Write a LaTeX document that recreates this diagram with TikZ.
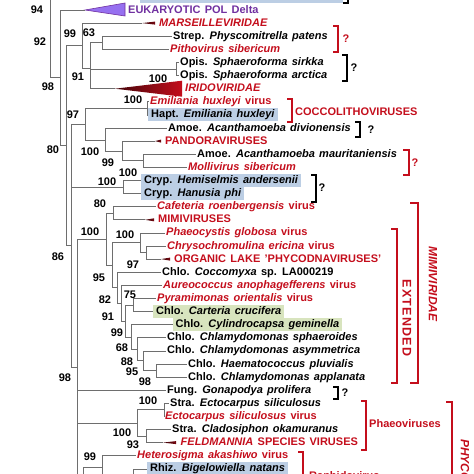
\documentclass[tikz,border=0pt]{standalone}
\usepackage{fontspec}
\setmainfont{Liberation Sans}[WordSpace=1.4]

\definecolor{vred}{RGB}{196,14,28}
\definecolor{eukpurple}{RGB}{112,48,160}
\definecolor{eukfill}{RGB}{150,112,240}
\definecolor{hlblue}{RGB}{188,206,228}
\definecolor{hlgreen}{RGB}{216,228,190}
\definecolor{branch}{RGB}{110,110,110}

\begin{document}
\begin{tikzpicture}[x=1pt,y=-1pt,
    lbl/.style={font=\fontsize{11}{12}\selectfont\bfseries,inner sep=0pt},
    leaf/.style={lbl,anchor=west,inner xsep=1.5pt,inner ysep=1pt,text height=8.5pt,text depth=2.5pt},
    vir/.style={leaf,text=vred},
    hapt/.style={leaf,fill=hlblue},
    chlo/.style={leaf,fill=hlgreen},
    br/.style={draw=branch,line width=0.8pt},
    redbr/.style={draw=vred,line width=1.7pt},
    blkbr/.style={draw=black,line width=1.7pt},
    clade/.style={font=\fontsize{12}{12}\selectfont\bfseries,text=vred,rotate=-90,inner sep=0pt}]
\useasboundingbox (0,0) rectangle (474,474);
\clip (0,0) rectangle (474,474);

% top of the figure (cut)
\fill[hlblue] (140,-10) rectangle (343,2.5);
\draw[blkbr] (343,3) -- (348,3) -- (348,-10);

% leaves
\node[lbl,text=eukpurple,anchor=west] (euk) at (128,10) {EUKARYOTIC POL Delta};
\node[vir] (mars) at (157.5,23.1) {\textit{MARSEILLEVIRIDAE}};
\node[leaf] (strep) at (171.5,36.2) {Strep. \textit{Physcomitrella patens}};
\node[vir] (pitho) at (168.5,49.3) {\textit{Pithovirus sibericum}};
\node[leaf] (opisS) at (178.5,62.4) {Opis. \textit{Sphaeroforma sirkka}};
\node[leaf] (opisA) at (178.5,75.6) {Opis. \textit{Sphaeroforma arctica}};
\node[vir] (irido) at (183.5,88.7) {\textit{IRIDOVIRIDAE}};
\node[vir] (ehvL) at (148.5,101.8) {\textit{Emiliania huxleyi} virus};
\node[hapt,inner xsep=3pt] (hapt) at (148,114.9) {Hapt. \textit{Emiliania huxleyi}};
\node[leaf] (amoeD) at (166.5,128.0) {Amoe. \textit{Acanthamoeba divionensis}};
\node[vir] (pando) at (163.5,141.1) {PANDORAVIRUSES};
\node[leaf] (amoeM) at (195.5,154.2) {Amoe. \textit{Acanthamoeba mauritaniensis}};
\node[vir] (molli) at (186.5,167.3) {\textit{Mollivirus sibericum}};
\node[hapt,inner xsep=3pt] (crypHe) at (141,180.4) {Cryp. \textit{Hemiselmis andersenii}};
\node[hapt,inner xsep=3pt] (crypHa) at (141,193.5) {Cryp. \textit{Hanusia phi}};
\node[vir] (cafeL) at (155.5,206.7) {\textit{Cafeteria roenbergensis} virus};
\node[vir] (mimi) at (156.5,219.8) {MIMIVIRUSES};
\node[vir] (phaeo) at (164.5,232.9) {\textit{Phaeocystis globosa} virus};
\node[vir] (chryso) at (165.5,246.0) {\textit{Chrysochromulina ericina} virus};
\node[vir] (olake) at (172.5,259.1) {ORGANIC LAKE 'PHYCODNAVIRUSES'};
\node[leaf] (cocco) at (160.5,272.2) {Chlo. \textit{Coccomyxa} sp. LA000219};
\node[vir] (aureo) at (161.5,285.3) {\textit{Aureococcus anophagefferens} virus};
\node[vir] (pyra) at (155.5,298.4) {\textit{Pyramimonas orientalis} virus};
\node[chlo,inner xsep=3pt] (carteria) at (153,311.5) {Chlo. \textit{Carteria crucifera}};
\node[chlo,inner xsep=3pt] (cylin) at (172.5,324.6) {Chlo. \textit{Cylindrocapsa geminella}};
\node[leaf] (sphaer) at (165.5,337.8) {Chlo. \textit{Chlamydomonas sphaeroides}};
\node[leaf] (asym) at (165.5,350.9) {Chlo. \textit{Chlamydomonas asymmetrica}};
\node[leaf] (haem) at (186.5,364.0) {Chlo. \textit{Haematococcus pluvialis}};
\node[leaf] (applan) at (186.5,377.1) {Chlo. \textit{Chlamydomonas applanata}};
\node[leaf] (gona) at (165.5,390.2) {Fung. \textit{Gonapodya prolifera}};
\node[leaf] (straEcto) at (168.5,403.3) {Stra. \textit{Ectocarpus siliculosus}};
\node[vir] (esv) at (163.5,416.4) {\textit{Ectocarpus siliculosus} virus};
\node[leaf] (clado) at (170.5,429.5) {Stra. \textit{Cladosiphon okamuranus}};
\node[vir] (feld) at (179,442.6) {\textit{FELDMANNIA} SPECIES VIRUSES};
\node[vir] (hetero) at (135.5,455.7) {\textit{Heterosigma akashiwo} virus};
\node[hapt,inner xsep=3pt] (rhizL) at (147,468.9) {Rhiz. \textit{Bigelowiella natans}};

% collapsed clades
\coordinate (eukA) at (85,10);
\filldraw[fill=eukfill,draw=eukpurple,line width=0.6pt] (eukA) -- (125,3) -- (125,16) -- cycle;
\coordinate (iridoA) at (115,88.7);
\shade[left color=vred!35!black,right color=vred] (iridoA) -- (182,80.7) -- (182,96.7) -- cycle;
\coordinate (marsA) at (142,23.1);
\shade[left color=vred!30!black,right color=vred!60!black] (marsA) -- (155,21.6) -- (155,24.6) -- cycle;
\coordinate (pandoA) at (155,141.1);
\shade[left color=vred!30!black,right color=vred!60!black] (pandoA) -- (161,139.6) -- (161,142.6) -- cycle;
\coordinate (mimiA) at (145,219.8);
\shade[left color=vred!30!black,right color=vred!60!black] (mimiA) -- (154,218.3) -- (154,221.3) -- cycle;
\coordinate (olakeA) at (161,259.1);
\shade[left color=vred!30!black,right color=vred!60!black] (olakeA) -- (170,257.6) -- (170,260.6) -- cycle;
\coordinate (feldA) at (163,442.6);
\shade[left color=vred!30!black,right color=vred!60!black] (feldA) -- (176,441.1) -- (176,444.1) -- cycle;

% inner nodes
\coordinate (top) at (50,-10);
\coordinate (n98) at (60,77.5);
\coordinate (n80) at (66,145);
\coordinate (n99) at (82,45.5);
\coordinate (n91) at (90,68.4);
\coordinate (n63) at (102,42.7);
\coordinate (opis) at (176,69);
\coordinate (n86) at (71,245.5);
\coordinate (n97) at (85,124);
\coordinate (ehv) at (147,108.4);
\coordinate (n100a) at (105,140);
\coordinate (n99b) at (122,151.4);
\coordinate (n100b) at (143,160.8);
\coordinate (cryp) at (123,187);
\coordinate (n98b) at (77,367);
\coordinate (n100c) at (106,239.5);
\coordinate (cafe) at (113,213.2);
\coordinate (n95) at (112,265.2);
\coordinate (n100e) at (140,242.7);
\coordinate (n97b) at (146,252.6);
\coordinate (n82) at (117,287.6);
\coordinate (n91b) at (121,303);
\coordinate (n99d) at (125,321);
\coordinate (n75) at (133,305);
\coordinate (n68) at (131,337);
\coordinate (n88) at (137,349.3);
\coordinate (n95b) at (143,360.7);
\coordinate (n98c) at (156,370.6);
\coordinate (n100d) at (137,423.6);
\coordinate (ecto) at (164,409.8);
\coordinate (n93) at (146,436);
\coordinate (n83) at (83,494);
\coordinate (n99c) at (102,467);
\coordinate (rhiz) at (133,478);
\coordinate (offA) at (120,521);
\coordinate (offB) at (160,487);

% branches
\draw[br] (top) |- (n98);
\draw[br] (n98) |- (eukA);
\draw[br] (n98) |- (n80);
\draw[br] (n80) |- (n99);
\draw[br] (n80) |- (n86);
\draw[br] (n99) |- (marsA);
\draw[br] (n99) |- (n91);
\draw[br] (n91) |- (n63);
\draw[br] (n91) |- (opis);
\draw[br] (n91) |- (iridoA);
\draw[br] (n63) |- (strep.west);
\draw[br] (n63) |- (pitho.west);
\draw[br] (opis) |- (opisS.west);
\draw[br] (opis) |- (opisA.west);
\draw[br] (n86) |- (n97);
\draw[br] (n86) |- (cryp);
\draw[br] (n86) |- (n98b);
\draw[br] (n97) |- (ehv);
\draw[br] (n97) |- (n100a);
\draw[br] (ehv) |- (ehvL.west);
\draw[br] (ehv) |- (hapt.west);
\draw[br] (n100a) |- (amoeD.west);
\draw[br] (n100a) |- (n99b);
\draw[br] (n99b) |- (pandoA);
\draw[br] (n99b) |- (n100b);
\draw[br] (n100b) |- (amoeM.west);
\draw[br] (n100b) |- (molli.west);
\draw[br] (cryp) |- (crypHe.west);
\draw[br] (cryp) |- (crypHa.west);
\draw[br] (n98b) |- (n100c);
\draw[br] (n98b) |- (gona.west);
\draw[br] (n98b) |- (n100d);
\draw[br] (n98b) |- (n83);
\draw[br] (n100c) |- (cafe);
\draw[br] (n100c) |- (n95);
\draw[br] (cafe) |- (cafeL.west);
\draw[br] (cafe) |- (mimiA);
\draw[br] (n95) |- (n100e);
\draw[br] (n95) |- (n82);
\draw[br] (n100e) |- (phaeo.west);
\draw[br] (n100e) |- (n97b);
\draw[br] (n97b) |- (chryso.west);
\draw[br] (n97b) |- (olakeA);
\draw[br] (n82) |- (cocco.west);
\draw[br] (n82) |- (n91b);
\draw[br] (n91b) |- (aureo.west);
\draw[br] (n91b) |- (n99d);
\draw[br] (n99d) |- (n75);
\draw[br] (n99d) |- (n68);
\draw[br] (n75) |- (pyra.west);
\draw[br] (n75) |- (carteria.west);
\draw[br] (n68) |- (cylin.west);
\draw[br] (n68) |- (n88);
\draw[br] (n88) |- (sphaer.west);
\draw[br] (n88) |- (n95b);
\draw[br] (n95b) |- (asym.west);
\draw[br] (n95b) |- (n98c);
\draw[br] (n98c) |- (haem.west);
\draw[br] (n98c) |- (applan.west);
\draw[br] (n100d) |- (ecto);
\draw[br] (n100d) |- (n93);
\draw[br] (ecto) |- (straEcto.west);
\draw[br] (ecto) |- (esv.west);
\draw[br] (n93) |- (clado.west);
\draw[br] (n93) |- (feldA);
\draw[br] (n83) |- (n99c);
\draw[br] (n83) |- (offA);
\draw[br] (n99c) |- (hetero.west);
\draw[br] (n99c) |- (rhiz);
\draw[br] (rhiz) |- (rhizL.west);
\draw[br] (rhiz) |- (offB);

% bootstrap values
\node[lbl] (bs94) at (37,10) {94};
\node[lbl] (bs92) at (40,42) {92};
\node[lbl] (bs98a) at (48,87) {98};
\node[lbl] (bs99a) at (70,34) {99};
\node[lbl] (bs63) at (89,33) {63};
\node[lbl] (bs91a) at (78,77) {91};
\node[lbl] (bs100a) at (158,79) {100};
\node[lbl] (bs100b) at (133,100) {100};
\node[lbl] (bs97a) at (73,115) {97};
\node[lbl] (bs80a) at (53,150) {80};
\node[lbl] (bs100c) at (90,152) {100};
\node[lbl] (bs99b) at (108,163) {99};
\node[lbl] (bs100d) at (128,173) {100};
\node[lbl] (bs100e) at (107,182) {100};
\node[lbl] (bs80b) at (100,204) {80};
\node[lbl] (bs100f) at (90,232) {100};
\node[lbl] (bs100g) at (125,235) {100};
\node[lbl] (bs86) at (58,257) {86};
\node[lbl] (bs97b) at (133,265) {97};
\node[lbl] (bs95a) at (99,278) {95};
\node[lbl] (bs75) at (130,295) {75};
\node[lbl] (bs82) at (105,300) {82};
\node[lbl] (bs91b) at (108,317) {91};
\node[lbl] (bs99c) at (117,333) {99};
\node[lbl] (bs68) at (122,348) {68};
\node[lbl] (bs88) at (127,362) {88};
\node[lbl] (bs95b) at (132,372) {95};
\node[lbl] (bs98b) at (65,378) {98};
\node[lbl] (bs98c) at (145,382) {98};
\node[lbl] (bs100h) at (148,401) {100};
\node[lbl] (bs100i) at (122,433) {100};
\node[lbl] (bs93) at (133,445) {93};
\node[lbl] (bs99d) at (90,457) {99};

% groups on the right
\draw[redbr] (333,26) -- (338,26) -- (338,52) -- (333,52);
\node[lbl,text=vred] (q1) at (346,39) {?};
\draw[blkbr] (342,55) -- (347,55) -- (347,81) -- (342,81);
\node[lbl] (q2) at (354,68) {?};
\draw[redbr] (287,99) -- (292,99) -- (292,122) -- (287,122);
\node[lbl,text=vred,anchor=west] (cocco) at (295,112) {COCCOLITHOVIRUSES};
\draw[blkbr] (355,122) -- (360,122) -- (360,137) -- (355,137);
\node[lbl] (q3) at (371,130) {?};
\draw[redbr] (403,150) -- (409,150) -- (409,175) -- (403,175);
\node[lbl,text=vred] (q4) at (415,163) {?};
\draw[blkbr] (311,175) -- (316,175) -- (316,202) -- (311,202);
\node[lbl] (q5) at (322,188) {?};
\draw[redbr] (410,203) -- (418,203) -- (418,383) -- (410,383);
\node[clade] (mimiviridae) at (433,284) {\textit{MIMIVIRIDAE}};
\draw[redbr] (391,229) -- (397,229) -- (397,383) -- (391,383);
\node[clade,font=\fontsize{12.5}{12.5}\selectfont\bfseries] (extended) at (407,318) {E\hspace{1.3pt}X\hspace{1.3pt}T\hspace{1.3pt}E\hspace{1.3pt}N\hspace{1.3pt}D\hspace{1.3pt}E\hspace{1.3pt}D};
\draw[blkbr] (333,387) -- (338,387) -- (338,399) -- (333,399);
\node[lbl] (q6) at (345,393) {?};
\draw[redbr] (361,401) -- (366,401) -- (366,450) -- (361,450);
\node[lbl,text=vred,anchor=west] (phaeoviruses) at (369,424) {Phaeoviruses};
\draw[redbr] (446,402) -- (452,402) -- (452,480);
\node[clade,anchor=west] (phyco) at (465,439) {\textit{PHYCODNAVIRIDAE}};
\draw[redbr] (298,452) -- (303,452) -- (303,480);
\node[lbl,text=vred,anchor=west] (raphido) at (309,477) {Raphidovirus};
\end{tikzpicture}
\end{document}
